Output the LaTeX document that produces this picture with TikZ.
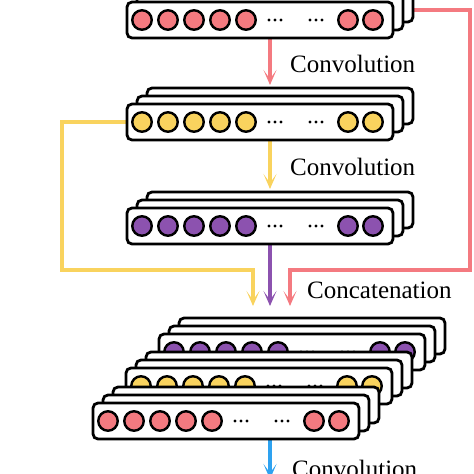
\documentclass[tikz,border=0pt]{standalone}
\usepackage{fontspec}
\setmainfont{Liberation Serif}
\usetikzlibrary{calc,arrows.meta,backgrounds}
\definecolor{pinkc}{HTML}{F47A80}
\definecolor{yellowc}{HTML}{F9D35E}
\definecolor{purplec}{HTML}{8C52AF}
\definecolor{bluec}{HTML}{2EA2F0}
\tikzset{
  layerbox/.style={draw=black, fill=white, line width=2.8pt, rounded corners=5pt,
    minimum width=266pt, minimum height=36pt, inner sep=0pt, outer sep=0pt},
  dotcirc/.style={circle, draw=black, line width=2.4pt, minimum size=19.5pt, inner sep=0pt},
  lab/.style={font=\fontsize{25}{30}\selectfont, inner sep=0pt},
  conn/.style={line width=3.3pt, -{Stealth[length=15pt,width=13pt,inset=9pt]}},
}
\newcommand{\layerstack}[4]{%
  \node[layerbox, anchor=north west] (#1-3) at (#2+20,#3-16) {};
  \node[layerbox, anchor=north west] (#1-2) at (#2+10,#3-8) {};
  \node[layerbox, anchor=north west] (#1) at (#2,#3) {};
  \foreach \k/\dx in {1/15,2/41,3/67,4/93,5/119,6/221,7/246}
    \node[dotcirc, fill=#4] (#1-c\k) at ($(#1.west)+(\dx,0)$) {};
  \foreach \dx in {142,148,154,183,189,195}
    \fill ($(#1.west)+(\dx,0)$) circle[radius=1.7pt];
}
\begin{document}
\begin{tikzpicture}[x=1pt,y=-1pt]
\useasboundingbox (0,0) rectangle (474,474);
\clip (0,0) rectangle (474,474);

% stacks
\layerstack{top}{127}{2}{pinkc}
\layerstack{mid}{127}{104}{yellowc}
\layerstack{pur}{127}{208}{purplec}
% concatenated stack
\layerstack{catP}{159}{334}{purplec}
\layerstack{catY}{126}{368}{yellowc}
\layerstack{catR}{93}{403}{pinkc}

% labels
\node[lab, anchor=base west] (l1) at (290,72) {Convolution};
\node[lab, anchor=base west] (l2) at (290,175) {Convolution};
\node[lab, anchor=base west] (l3) at (307,298) {Concatenation};
\node[lab, anchor=base west] (l4) at (292,477) {Convolution};

% helper coordinates
\coordinate (colx) at (270,0);
\coordinate (catin) at (0,306);
\coordinate (prow) at (0,10);
\coordinate (ycorner) at (62,270);
\coordinate (ydrop) at (253,306);
\coordinate (pcorner) at (470,270);
\coordinate (pdrop) at (290,306);
\coordinate (blueend) at (270,479);

\begin{scope}[on background layer]
\clip (0,0) rectangle (474,474);
\draw[conn, pinkc, shorten >=3pt] (top.south -| colx) -- (mid-3.north -| colx);
\draw[conn, yellowc, shorten >=3pt] (mid.south -| colx) -- (pur-3.north -| colx);
\draw[conn, purplec] (pur.south -| colx) -- (colx |- catin);
\draw[conn, yellowc] (mid.west) -| (ycorner) -| (ydrop);
\draw[conn, pinkc] (top-3.east |- prow) -| (pcorner) -| (pdrop);
\draw[conn, bluec] (catR.south -| colx) -- (blueend);
\end{scope}
\end{tikzpicture}
\end{document}
